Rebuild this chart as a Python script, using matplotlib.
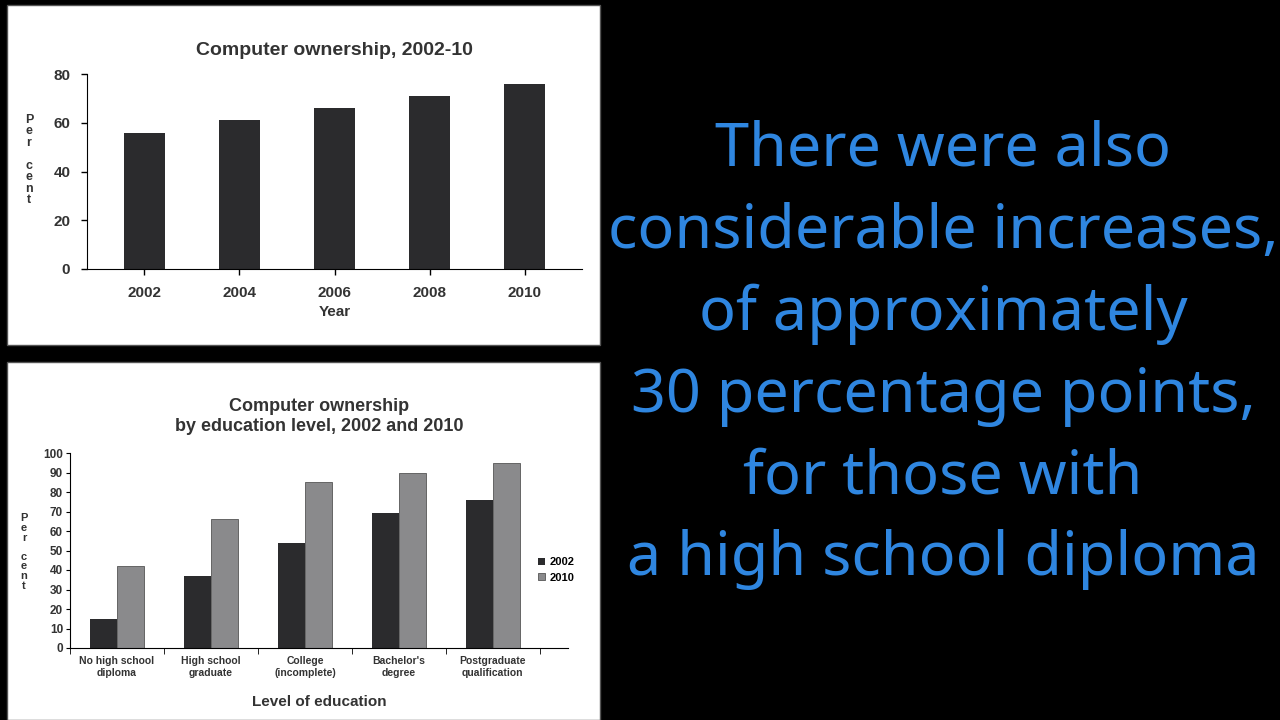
import matplotlib.pyplot as plt
import numpy as np
from matplotlib.patches import Rectangle

years = ["2002", "2004", "2006", "2008", "2010"]
ownership = [56, 61, 66, 71, 76]

levels = ["No high school\ndiploma", "High school\ngraduate", "College\n(incomplete)",
          "Bachelor's\ndegree", "Postgraduate\nqualification"]
own_2002 = [15, 37, 54, 69, 76]
own_2010 = [42, 66, 85, 90, 95]

caption = ("There were also\nconsiderable increases,\nof approximately\n"
           "30 percentage points,\nfor those with\na high school diploma")

plt.rcParams['font.family'] = ['Liberation Sans', 'DejaVu Sans']
fig = plt.figure(figsize=(12.8, 7.2), dpi=100, facecolor='black')

# white panels, drawn behind the axes
for (x0, y0, w, h) in [(7, 5, 593, 340), (7, 362, 593, 358)]:
    fig.patches.append(Rectangle((x0 / 1280, 1 - (y0 + h) / 720), w / 1280, h / 720,
                                 transform=fig.transFigure, facecolor='white',
                                 edgecolor='#555555', lw=1, zorder=-5))

dark = '#2b2b2d'
grey = '#8a8a8c'

# top chart
ax1 = fig.add_axes([87 / 1280, 1 - 269 / 720, 495 / 1280, 195 / 720])
ax1.set_facecolor('white')
ax1.bar(np.arange(len(years)), ownership, width=0.43, color=dark)
ax1.set_ylim(0, 80)
ax1.set_yticks([0, 20, 40, 60, 80])
ax1.set_xlim(-0.6, 4.6)
ax1.set_xticks(np.arange(len(years)))
ax1.set_xticklabels(years)
for s in ['top', 'right']:
    ax1.spines[s].set_visible(False)
ax1.tick_params(labelsize=11, length=4, width=1, pad=8)
for t in ax1.get_xticklabels() + ax1.get_yticklabels():
    t.set_fontweight('bold'); t.set_color('#333333')
ax1.set_xlabel("Year", fontsize=11, fontweight='bold', color='#333333')
ax1.set_title("Computer ownership, 2002-10", fontsize=14, fontweight='bold',
              color='#333333', pad=14)
fig.text(29 / 1280, 1 - 160 / 720, "P\ne\nr\n\nc\ne\nn\nt", fontsize=9, fontweight='bold',
         ha='center', va='center', linespacing=0.95, color='#333333')

# bottom chart
ax2 = fig.add_axes([70 / 1280, 1 - 648 / 720, 498 / 1280, 195 / 720])
ax2.set_facecolor('white')
x = np.arange(len(levels))
w = 0.29
ax2.bar(x - w / 2, own_2002, width=w, color=dark, label='2002')
ax2.bar(x + w / 2, own_2010, width=w, color=grey, edgecolor='#555555', lw=0.6, label='2010')
ax2.set_ylim(0, 100)
ax2.set_yticks(range(0, 101, 10))
ax2.set_xlim(-0.5, 4.8)
ax2.set_xticks(x)
ax2.set_xticklabels(levels)
for s in ['top', 'right']:
    ax2.spines[s].set_visible(False)
ax2.tick_params(axis='y', labelsize=8.5, length=3, pad=2)
ax2.tick_params(axis='x', labelsize=7.5, length=0, pad=6)
ax2.set_xticks(np.arange(len(levels) + 1) - 0.5, minor=True)
ax2.tick_params(axis='x', which='minor', length=4)
for t in ax2.get_xticklabels() + ax2.get_yticklabels():
    t.set_fontweight('bold'); t.set_color('#333333')
ax2.set_xlabel("Level of education", fontsize=11, fontweight='bold', color='#333333', labelpad=12)
ax2.set_title("Computer ownership\nby education level, 2002 and 2010", fontsize=13,
              fontweight='bold', color='#333333', pad=16)
ax2.legend(loc='center left', bbox_to_anchor=(0.92, 0.4), frameon=False,
           handlelength=0.6, handleheight=0.6, handletextpad=0.4,
           prop={'weight': 'bold', 'size': 8})
fig.text(24 / 1280, 1 - 552 / 720, "P\ne\nr\n\nc\ne\nn\nt", fontsize=8, fontweight='bold',
         ha='center', va='center', linespacing=0.95, color='#333333')

# caption
fig.text(943 / 1280, 1 - 355 / 720, caption, color='#2f86e0', fontsize=44,
         family=['Noto Sans', 'DejaVu Sans'], ha='center', va='center', linespacing=1.45)

fig.savefig("out.png", dpi=100, facecolor='black')
